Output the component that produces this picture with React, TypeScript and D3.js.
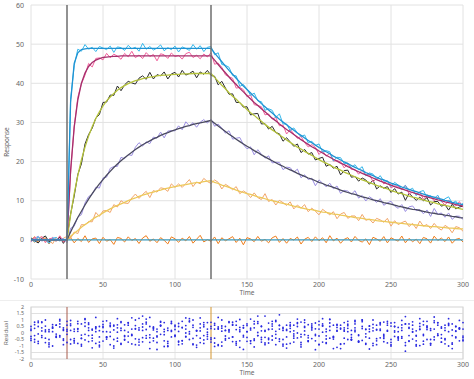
import React from 'react';
import * as d3 from 'd3';

const W = 474;
const H = 379;

// sample times (s), 2.5 s spacing, 0..300
const TIME = d3.range(0, 300.001, 2.5);

const X_TICKS = [0, 50, 100, 150, 200, 250, 300];
const Y_TICKS = [-10, 0, 10, 20, 30, 40, 50, 60];
const R_TICKS = [-2, -1.5, -1, -0.5, 0, 0.5, 1, 1.5, 2];
const R_GRID = [-1.5, 1.5];
const MARKERS = [25, 125];

// fitted curves
const cyanFit = [
  0, 0, 0, 0, 0, 0, 0, 0, 0, 0, 0,
  35.2, 45.1, 47.8, 48.6, 48.8,
  48.9, 48.9, 48.9, 48.9, 48.9, 48.9, 48.9, 48.9, 48.9, 48.9,
  48.9, 48.9, 48.9, 48.9, 48.9, 48.9, 48.9, 48.9, 48.9, 48.9,
  48.9, 48.9, 48.9, 48.9, 48.9, 48.9, 48.9, 48.9, 48.9, 48.9,
  48.9, 48.9, 48.9, 48.9, 48.9,
  47.7, 46.6, 45.5, 44.4, 43.3, 42.3, 41.3, 40.3, 39.3, 38.4,
  37.5, 36.6, 35.7, 34.8, 34.0, 33.2, 32.4, 31.6, 30.8, 30.1,
  29.4, 28.7, 28.0, 27.3, 26.7, 26.0, 25.4, 24.8, 24.2, 23.6,
  23.1, 22.5, 22.0, 21.4, 20.9, 20.4, 19.9, 19.5, 19.0, 18.5,
  18.1, 17.7, 17.2, 16.8, 16.4, 16.0, 15.6, 15.3, 14.9, 14.5,
  14.2, 13.9, 13.5, 13.2, 12.9, 12.6, 12.3, 12.0, 11.7, 11.4,
  11.1, 10.9, 10.6, 10.4, 10.1, 9.9, 9.6, 9.4, 9.2, 9.0,
];
const magentaFit = [
  0, 0, 0, 0, 0, 0, 0, 0, 0, 0, 0,
  17.8, 28.8, 35.7, 40.0, 42.6, 44.3, 45.3, 45.9, 46.3, 46.6,
  46.7, 46.8, 46.9, 46.9, 47.0, 47.0, 47.0, 47.0, 47.0, 47.0,
  47.0, 47.0, 47.0, 47.0, 47.0, 47.0, 47.0, 47.0, 47.0, 47.0,
  47.0, 47.0, 47.0, 47.0, 47.0, 47.0, 47.0, 47.0, 47.0, 47.0,
  45.9, 44.8, 43.7, 42.7, 41.6, 40.6, 39.7, 38.7, 37.8, 36.9,
  36.0, 35.1, 34.3, 33.5, 32.7, 31.9, 31.1, 30.4, 29.6, 28.9,
  28.2, 27.6, 26.9, 26.3, 25.6, 25.0, 24.4, 23.8, 23.3, 22.7,
  22.2, 21.6, 21.1, 20.6, 20.1, 19.6, 19.2, 18.7, 18.3, 17.8,
  17.4, 17.0, 16.6, 16.2, 15.8, 15.4, 15.0, 14.7, 14.3, 14.0,
  13.6, 13.3, 13.0, 12.7, 12.4, 12.1, 11.8, 11.5, 11.2, 11.0,
  10.7, 10.5, 10.2, 10.0, 9.7, 9.5, 9.3, 9.0, 8.8, 8.6,
];
const blackFit = [
  0, 0, 0, 0, 0, 0, 0, 0, 0, 0, 0,
  6.4, 11.8, 16.4, 20.4, 23.7, 26.5, 28.9, 31.0, 32.7, 34.2,
  35.5, 36.5, 37.4, 38.2, 38.9, 39.4, 39.9, 40.3, 40.7, 40.9,
  41.2, 41.4, 41.6, 41.7, 41.9, 42.0, 42.1, 42.1, 42.2, 42.3,
  42.3, 42.4, 42.4, 42.4, 42.5, 42.5, 42.5, 42.5, 42.5, 42.5,
  41.5, 40.5, 39.5, 38.6, 37.6, 36.7, 35.9, 35.0, 34.2, 33.3,
  32.5, 31.8, 31.0, 30.3, 29.5, 28.8, 28.1, 27.5, 26.8, 26.2,
  25.5, 24.9, 24.3, 23.7, 23.2, 22.6, 22.1, 21.6, 21.0, 20.5,
  20.0, 19.6, 19.1, 18.6, 18.2, 17.8, 17.3, 16.9, 16.5, 16.1,
  15.7, 15.3, 15.0, 14.6, 14.3, 13.9, 13.6, 13.3, 13.0, 12.6,
  12.3, 12.0, 11.8, 11.5, 11.2, 10.9, 10.7, 10.4, 10.2, 9.9,
  9.7, 9.5, 9.2, 9.0, 8.8, 8.6, 8.4, 8.2, 8.0, 7.8,
];
const purpleFit = [
  0, 0, 0, 0, 0, 0, 0, 0, 0, 0, 0,
  2.0, 3.9, 5.7, 7.3, 8.9, 10.4, 11.8, 13.1, 14.3, 15.4,
  16.5, 17.5, 18.5, 19.4, 20.2, 21.0, 21.7, 22.4, 23.1, 23.7,
  24.3, 24.8, 25.3, 25.8, 26.2, 26.7, 27.1, 27.4, 27.8, 28.1,
  28.4, 28.7, 29.0, 29.2, 29.5, 29.7, 29.9, 30.1, 30.3, 30.5,
  29.8, 29.1, 28.4, 27.7, 27.0, 26.4, 25.7, 25.1, 24.5, 23.9,
  23.4, 22.8, 22.3, 21.7, 21.2, 20.7, 20.2, 19.7, 19.2, 18.8,
  18.3, 17.9, 17.5, 17.0, 16.6, 16.2, 15.8, 15.5, 15.1, 14.7,
  14.4, 14.0, 13.7, 13.4, 13.1, 12.7, 12.4, 12.1, 11.8, 11.6,
  11.3, 11.0, 10.8, 10.5, 10.2, 10.0, 9.8, 9.5, 9.3, 9.1,
  8.9, 8.6, 8.4, 8.2, 8.0, 7.8, 7.7, 7.5, 7.3, 7.1,
  6.9, 6.8, 6.6, 6.5, 6.3, 6.2, 6.0, 5.9, 5.7, 5.6,
];
const goldFit = [
  0, 0, 0, 0, 0, 0, 0, 0, 0, 0, 0,
  0.9, 1.7, 2.4, 3.2, 3.9, 4.5, 5.2, 5.8, 6.3, 6.9,
  7.4, 7.9, 8.4, 8.8, 9.2, 9.6, 10.0, 10.4, 10.7, 11.1,
  11.4, 11.7, 12.0, 12.2, 12.5, 12.7, 13.0, 13.2, 13.4, 13.6,
  13.8, 14.0, 14.1, 14.3, 14.5, 14.6, 14.7, 14.9, 15.0, 15.1,
  14.7, 14.4, 14.0, 13.7, 13.4, 13.1, 12.7, 12.4, 12.1, 11.8,
  11.6, 11.3, 11.0, 10.8, 10.5, 10.2, 10.0, 9.8, 9.5, 9.3,
  9.1, 8.9, 8.6, 8.4, 8.2, 8.0, 7.8, 7.7, 7.5, 7.3,
  7.1, 7.0, 6.8, 6.6, 6.5, 6.3, 6.2, 6.0, 5.9, 5.7,
  5.6, 5.5, 5.3, 5.2, 5.1, 4.9, 4.8, 4.7, 4.6, 4.5,
  4.4, 4.3, 4.2, 4.1, 4.0, 3.9, 3.8, 3.7, 3.6, 3.5,
  3.4, 3.4, 3.3, 3.2, 3.1, 3.0, 3.0, 2.9, 2.8, 2.8,
];
const baseFitT = [0, 300];
const baseFit = [0, 0];

// residuals (measured - fit)
const cyanRes = [
  0.3, -0.5, 0.8, -0.2, 0.1, -0.9, 0.4, 0.6, -0.3, 0.2,
  -0.1, 0.7, -0.6, 0.9, -0.4, 1.1, -0.2, 0.3, -0.8, 0.5,
  0.1, -0.3, 0.6, -1.0, 0.4, 0.2, -0.5, 0.8, -0.1, 0.3,
  -0.7, 1.3, -0.2, 0.5, -0.4, 0.1, 0.9, -0.6, 0.2, -0.3,
  0.6, -0.9, 0.4, 0.0, -0.5, 1.0, -0.2, 0.7, -0.8, 0.3,
  0.5, -0.4, 1.2, -0.7, 0.2, 0.8, -0.3, 0.6, -1.1, 0.4,
  0.1, -0.6, 0.9, -0.2, 0.5, -0.9, 0.3, 0.7, -0.4, 1.4,
  -0.5, 0.2, -0.8, 0.6, 0.0, -0.3, 0.8, -0.6, 0.4, -0.1,
  0.9, -0.7, 0.3, 0.5, -1.2, 0.2, 0.6, -0.4, 0.1, -0.5,
  0.7, -0.2, 1.0, -0.8, 0.3, 0.4, -0.6, 0.8, -0.3, 0.2,
  -0.9, 0.5, 0.1, -0.4, 0.7, -0.2, 0.6, -1.0, 0.3, 0.9,
  -0.5, 0.2, -0.3, 0.8, -0.7, 0.4, 1.1, -0.2, 0.5, -0.6,
  0.3,
];
const magentaRes = [
  -0.43, 0.64, -0.07, 0.86, -0.74, 0.25, 0.47, -0.33, 1.04, -0.56,
  0.27, -0.84, 0.13, 0.72, -0.16, -0.53, 0.77, -1.14, 0.45, 0.18,
  -0.62, 0.94, -0.26, 0.53, 0.06, -0.87, 0.63, -0.24, 1.17, -0.45,
  0.23, -0.68, 0.83, -0.14, 0.36, -1.27, 0.54, 0.28, -0.65, 0.73,
  -0.17, 0.12, -0.83, 0.57, 0.93, -0.42, 0.16, -0.74, 0.48, -0.27,
  0.82, -1.03, 0.34, 0.37, -0.54, 0.08, 0.66, -0.93, 0.24, 0.57,
  -0.34, 1.07, -0.57, 0.04, 0.52, -0.77, 0.26, -0.23, 0.88, -0.46,
  0.43, -1.16, 0.62, 0.17, -0.38, 0.84, -0.13, -0.66, 0.54, 0.32,
  -0.88, 0.56, -0.22, 1.03, -0.47, 0.14, 0.37, -0.82, 0.68, -0.33,
  0.22, -0.63, 0.87, -0.06, 0.54, -0.97, 0.27, 0.63, -0.42, 0.76,
  -0.72, 0.17, 0.43, -0.28, 1.26, -0.64, 0.07, -0.18, 0.74, -0.86,
  0.46, 0.33, -0.52, 0.78, -0.12, -0.83, 0.58, 0.24, -0.37, 0.97,
  -0.24,
];
const blackRes = [
  0.5, -0.2, -0.8, 0.4, 1.0, -0.5, 0.1, -0.3, 0.7, -0.9,
  0.6, 0.2, -0.6, 0.3, -1.0, 0.8, 0.4, -0.4, 0.1, -0.7,
  0.9, -0.3, 0.5, -0.5, 1.1, -0.8, 0.2, 0.6, -0.2, -0.9,
  0.4, 0.7, -0.4, 1.2, -0.6, 0.3, -0.1, 0.8, -1.0, 0.2,
  0.5, -0.7, 0.9, -0.3, 0.1, 0.6, -1.1, 0.4, -0.2, 0.8,
  -0.5, 0.3, -0.9, 1.0, 0.2, -0.4, 0.6, -0.8, 0.1, -0.3,
  0.7, -0.6, 0.4, 1.3, -0.7, 0.2, -0.5, 0.9, -0.1, 0.3,
  -1.0, 0.6, 0.1, -0.4, 0.8, -0.9, 0.5, -0.2, 0.7, -0.6,
  0.3, 1.1, -0.8, 0.2, -0.3, 0.6, -1.2, 0.4, 0.9, -0.5,
  0.1, -0.7, 0.5, 0.3, -0.4, 1.0, -0.9, 0.2, -0.1, 0.6,
  -0.5, 0.8, -0.3, 0.4, -1.4, 0.7, 0.1, -0.6, 0.5, -0.2,
  0.9, -0.8, 0.3, 0.6, -0.4, 0.2, -1.0, 0.7, -0.3, 0.4,
  0.8,
];
const purpleRes = [
  -0.57, 0.36, 0.92, -0.34, 0.23, -0.76, 0.64, -0.08, 0.47, 0.27,
  -0.73, 0.96, -0.44, 0.13, -0.87, 0.52, 0.66, -0.17, 0.33, -1.06,
  0.42, -0.47, 0.76, 0.24, -0.63, 0.88, -0.27, 0.07, -0.84, 0.57,
  1.13, -0.36, 0.27, -0.72, 0.46, -0.23, 0.83, -1.04, 0.38, 0.12,
  -0.26, 0.73, -0.58, 1.16, -0.07, 0.44, -0.93, 0.16, 0.63, -0.47,
  0.34, -0.77, 0.46, 0.14, -0.43, 0.87, -0.66, 0.26, 1.04, -0.18,
  -0.64, 0.37, -1.07, 0.74, 0.17, -0.33, 0.76, -0.54, 0.13, 0.57,
  -0.86, 0.27, 0.54, -0.23, 1.07, -0.73, 0.43, -0.37, 0.24, -1.28,
  0.63, 0.06, -0.46, 0.77, -0.34, 0.66, -0.83, 0.23, 0.36, -0.13,
  0.96, -0.63, 0.34, -0.87, 0.53, 0.17, -0.44, 0.73, -0.67, 0.14,
  0.77, -0.26, -0.54, 0.62, -0.96, 0.43, 0.86, -0.24, 0.27, -0.63,
  0.54, -0.93, 1.23, -0.06, 0.37, -0.52, 0.67, -0.76, 0.16, 0.33,
  -0.36,
];
const goldRes = [
  0.2, -0.7, 0.5, 0.8, -0.4, 0.1, -1.0, 0.6, -0.2, 0.4,
  0.9, -0.5, 0.3, -0.8, 0.7, -0.1, 0.2, -0.6, 1.2, -0.3,
  0.5, 0.1, -0.9, 0.6, -0.4, 0.8, -0.2, -0.7, 0.3, 1.0,
  -0.5, 0.2, 0.7, -1.2, 0.4, -0.3, 0.6, 0.1, -0.8, 0.9,
  -0.2, 0.5, -0.6, 0.3, 1.1, -0.9, 0.2, -0.4, 0.8, -0.1,
  -0.7, 0.6, 0.3, -1.0, 0.5, 0.2, -0.3, 0.9, -0.6, 0.4,
  0.1, -0.8, 0.7, -0.2, -0.5, 1.3, -0.4, 0.3, -0.9, 0.6,
  0.2, -0.3, 0.8, -0.7, 0.5, -0.1, 1.0, -0.6, 0.4, -0.2,
  -0.9, 0.7, 0.1, -0.4, 0.6, -1.1, 0.3, 0.8, -0.5, 0.2,
  0.4, -0.7, 1.0, -0.3, 0.1, -0.8, 0.6, 0.3, -0.2, 0.9,
  -1.0, 0.5, -0.4, 0.2, 0.7, -0.6, 0.3, -0.9, 1.1, -0.1,
  0.4, -0.5, 0.8, -0.2, -0.7, 0.6, 0.1, -1.2, 0.5, 0.3,
  -0.6,
];
const baseRes = [
  -0.27, 0.83, -0.64, 0.16, 0.53, -1.06, 0.37, -0.24, 0.93, -0.46,
  0.14, 0.57, -0.76, 0.33, -0.43, 1.04, -0.66, 0.23, 0.47, -0.94,
  0.66, -0.34, 0.07, -1.16, 0.63, 0.37, -0.54, 0.77, -0.16, 0.34,
  -0.93, 0.46, 1.07, -0.36, 0.24, -0.73, 0.57, -0.13, -1.04, 0.76,
  0.27, -0.63, 0.44, -0.26, 0.86, -0.84, 0.17, 1.16, -0.53, 0.06,
  -0.37, 0.74, -0.96, 0.54, -0.23, 0.26, 0.83, -0.67, 0.43, -1.26,
  0.57, 0.24, -0.46, 0.87, -0.34, 0.13, -0.77, 0.53, 0.96, -0.64,
  0.34, -0.86, 0.36, -0.07, 0.73, -1.07, 0.16, 0.64, -0.43, 0.77,
  -0.23, 0.54, -0.74, 1.06, -0.27, 0.43, -0.87, 0.14, 0.56, -0.54,
  0.87, -0.14, -0.57, 0.26, -1.23, 0.66, 0.24, -0.37, 0.84, -0.76,
  0.53, 0.07, -0.33, 0.97, -0.74, 0.36, -0.47, 0.17, -0.97, 0.63,
  0.26, -0.83, 0.94, -0.17, 0.46, -0.43, 0.74, -0.86, 0.13, 0.37,
  -0.54,
];

type Series = { fitT: number[]; fit: number[]; res: number[]; dc: string; fc: string };
const SERIES: Series[] = [
  { fitT: baseFitT, fit: baseFit, res: baseRes, dc: '#f07d1a', fc: '#3d9fc4' },
  { fitT: TIME, fit: goldFit, res: goldRes, dc: '#f2a66a', fc: '#ecc85a' },
  { fitT: TIME, fit: purpleFit, res: purpleRes, dc: '#9b8ee2', fc: '#4a4a60' },
  { fitT: TIME, fit: blackFit, res: blackRes, dc: '#2a2a2a', fc: '#b4c23a' },
  { fitT: TIME, fit: magentaFit, res: magentaRes, dc: '#f2609c', fc: '#a52f6c' },
  { fitT: TIME, fit: cyanFit, res: cyanRes, dc: '#35b8ec', fc: '#1f92d2' },
];

const FONT = '"Noto Sans", "DejaVu Sans", sans-serif';

export default function App() {
  const x = d3.scaleLinear().domain([0, 300]).range([31, 463]);
  const y = d3.scaleLinear().domain([-10, 60]).range([279, 5]);
  const yr = d3.scaleLinear().domain([-2, 2]).range([359, 307]);

  const line = d3
    .line<[number, number]>()
    .x((d) => x(d[0]))
    .y((d) => y(d[1]));

  const dataOf = (s: Series) =>
    TIME.map((t, i) => (s.fitT === TIME ? s.fit[i] : 0) + s.res[i]);

  return (
    <svg
      width={W}
      height={H}
      style={{ position: 'absolute', left: 0, top: 0, background: '#fff' }}
      fontFamily={FONT}
    >
      <rect x={0} y={0} width={W} height={H} fill="#fff" />
      {/* main grid */}
      {Y_TICKS.map((v) => (
        <line key={'gy' + v} x1={x(0)} x2={x(300)} y1={y(v)} y2={y(v)} stroke="#e2e2e2" strokeWidth={1} />
      ))}
      {X_TICKS.map((v) => (
        <line key={'gx' + v} x1={x(v)} x2={x(v)} y1={y(60)} y2={y(-10)} stroke="#e2e2e2" strokeWidth={1} />
      ))}
      {Y_TICKS.map((v) => (
        <text key={'ty' + v} x={24} y={y(v) + 2.5} fontSize={7} fill="#666" textAnchor="end">
          {v}
        </text>
      ))}
      {X_TICKS.map((v) => (
        <text key={'tx' + v} x={x(v)} y={287} fontSize={7} fill="#666" textAnchor="middle">
          {v}
        </text>
      ))}
      <text x={(x(0) + x(300)) / 2} y={295} fontSize={6.5} fill="#666" textAnchor="middle">
        Time
      </text>
      <text transform={`translate(9,${(y(60) + y(-10)) / 2}) rotate(-90)`} fontSize={6.5} fill="#666" textAnchor="middle">
        Response
      </text>

      {/* data traces then fits */}
      {SERIES.map((s, k) => (
        <path
          key={'d' + k}
          d={line(TIME.map((t, i) => [t, dataOf(s)[i]] as [number, number])) || ''}
          fill="none"
          stroke={s.dc}
          strokeWidth={1}
        />
      ))}
      {SERIES.map((s, k) => (
        <path
          key={'f' + k}
          d={line(s.fitT.map((t, i) => [t, s.fit[i]] as [number, number])) || ''}
          fill="none"
          stroke={s.fc}
          strokeWidth={1.3}
        />
      ))}
      {MARKERS.map((m) => (
        <line key={'m' + m} x1={x(m)} x2={x(m)} y1={y(60)} y2={y(-10)} stroke="#6e6e6e" strokeWidth={1.5} />
      ))}

      {/* separator */}
      <line x1={0} x2={W} y1={300.5} y2={300.5} stroke="#eeeeee" strokeWidth={1} />

      {/* residual panel */}
      {X_TICKS.map((v) => (
        <line key={'rgx' + v} x1={x(v)} x2={x(v)} y1={yr(2)} y2={yr(-2)} stroke="#e6e6e6" strokeWidth={1} />
      ))}
      {R_GRID.map((v) => (
        <line key={'rgy' + v} x1={x(0)} x2={x(300)} y1={yr(v)} y2={yr(v)} stroke="#e0e0e0" strokeWidth={1} />
      ))}
      <rect x={x(0)} y={yr(2)} width={x(300) - x(0)} height={yr(-2) - yr(2)} fill="none" stroke="#d4d4d4" strokeWidth={1} />
      {R_TICKS.map((v) => (
        <text key={'tr' + v} x={24} y={yr(v) + 1.9} fontSize={5.4} fill="#666" textAnchor="end">
          {v}
        </text>
      ))}
      {X_TICKS.map((v) => (
        <text key={'trx' + v} x={x(v)} y={367} fontSize={7} fill="#666" textAnchor="middle">
          {v}
        </text>
      ))}
      <text x={(x(0) + x(300)) / 2} y={375} fontSize={6.5} fill="#666" textAnchor="middle">
        Time
      </text>
      <text transform={`translate(8,${(yr(2) + yr(-2)) / 2}) rotate(-90)`} fontSize={6} fill="#666" textAnchor="middle">
        Residual
      </text>
      <line x1={x(25)} x2={x(25)} y1={yr(2)} y2={yr(-2)} stroke="#a85a4a" strokeWidth={1} />
      <line x1={x(125)} x2={x(125)} y1={yr(2)} y2={yr(-2)} stroke="#d4952e" strokeWidth={1} />
      {SERIES.map((s, k) =>
        TIME.map((t, i) => (
          <circle key={'r' + k + '_' + i} cx={x(t)} cy={yr(s.res[i])} r={0.9} fill="#2a2ae0" />
        ))
      )}
    </svg>
  );
}
